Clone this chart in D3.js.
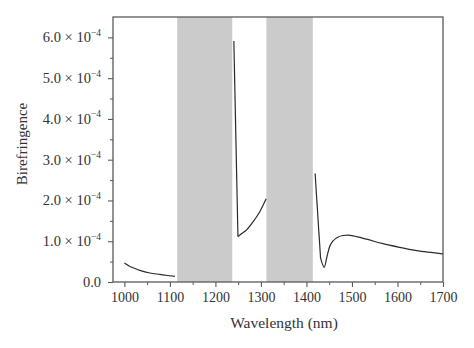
<!DOCTYPE html>
<html><head><meta charset="utf-8">
<script src="https://cdn.jsdelivr.net/npm/d3@7"></script>
<style>body{margin:0;background:#fff}</style>
</head><body><svg id="c" width="474" height="348"></svg>
<script>
// Data (wavelength in nm, birefringence in units of 1e-4)
const seg1Wl = [1000, 1012, 1034, 1056, 1078, 1095, 1111];
const seg1Bi = [0.465, 0.38, 0.285, 0.22, 0.186, 0.16, 0.137];
const seg2Wl = [1240.5, 1249.5, 1258, 1268.6, 1283, 1297.8, 1311.5];
const seg2Bi = [5.91, 1.115, 1.19, 1.28, 1.48, 1.73, 2.04];
const seg3Wl = [1419, 1431, 1439, 1445, 1451, 1458, 1466, 1480, 1492, 1503, 1532, 1568, 1605, 1642, 1678, 1700];
const seg3Bi = [2.66, 0.59, 0.36, 0.62, 0.87, 1.0, 1.08, 1.14, 1.15, 1.13, 1.05, 0.94, 0.85, 0.77, 0.72, 0.69];
const bandStart = [1116, 1312];
const bandEnd = [1237, 1414];
const xTicks = [1000, 1100, 1200, 1300, 1400, 1500, 1600, 1700];
const yTicks = [0, 1, 2, 3, 4, 5, 6];
const yTickLabels = ["0.0", "1.0", "2.0", "3.0", "4.0", "5.0", "6.0"];

const svg = d3.select("#c");
const m = {l: 113, r: 443, t: 17, b: 282};
const x = d3.scaleLinear().domain([975, 1700]).range([m.l, m.r]);
const y = d3.scaleLinear().domain([0, 6.5]).range([m.b, m.t]);
const font = "'Liberation Serif', 'Times New Roman', serif";
const axisCol = "#5a5a5a";

// bands
svg.selectAll("rect.band").data(bandStart).enter().append("rect")
  .attr("x", (d,i) => x(d)).attr("width", (d,i) => x(bandEnd[i]) - x(d))
  .attr("y", m.t).attr("height", m.b - m.t).attr("fill", "#cbcbcb");

// curves
const line = d3.line().x(d => x(d[0])).y(d => y(d[1])).curve(d3.curveMonotoneX);
const lineLin = d3.line().x(d => x(d[0])).y(d => y(d[1]));
const segs = [[seg1Wl, seg1Bi], [seg2Wl, seg2Bi], [seg3Wl, seg3Bi]];
segs.forEach(([w, b]) => {
  const pts = w.map((v, i) => [v, b[i]]);
  svg.append("path").attr("d", lineLin(pts.slice(0, 2)))
    .attr("fill", "none").attr("stroke", "#2b2b2b").attr("stroke-width", 1.2);
  svg.append("path").attr("d", line(pts.slice(1)))
    .attr("fill", "none").attr("stroke", "#2b2b2b").attr("stroke-width", 1.2);
});

// frame
svg.append("rect").attr("x", m.l).attr("y", m.t).attr("width", m.r - m.l).attr("height", m.b - m.t)
  .attr("fill", "none").attr("stroke", axisCol).attr("stroke-width", 1.3);

// x axis
const xAxis = d3.axisBottom(x).tickValues(xTicks).tickSize(5).tickPadding(5).tickFormat(d3.format("d"));
const gx = svg.append("g").attr("transform", `translate(0,${m.b})`).call(xAxis);
const xMinor = d3.axisBottom(x).tickValues(d3.range(1050, 1700, 100)).tickSize(3).tickFormat("");
svg.append("g").attr("transform", `translate(0,${m.b})`).call(xMinor).call(g => g.select(".domain").remove())
  .selectAll("line").attr("stroke", axisCol);
gx.select(".domain").remove();
gx.selectAll("line").attr("stroke", axisCol).attr("stroke-width", 1.1);
gx.selectAll("text").attr("font-family", font).attr("font-size", 14).attr("fill", "#333");

// y axis
const yAxis = d3.axisLeft(y).tickValues(yTicks).tickSize(5).tickFormat("");
const gy = svg.append("g").attr("transform", `translate(${m.l},0)`).call(yAxis);
gy.select(".domain").remove();
gy.selectAll("line").attr("stroke", axisCol).attr("stroke-width", 1.1);
const yMinor = d3.axisLeft(y).tickValues(d3.range(0.5, 6.5, 1)).tickSize(3).tickFormat("");
svg.append("g").attr("transform", `translate(${m.l},0)`).call(yMinor).call(g => g.select(".domain").remove())
  .selectAll("line").attr("stroke", axisCol);

yTicks.forEach((t, i) => {
  const tx = svg.append("text").attr("x", 101).attr("y", y(t) + 5)
    .attr("text-anchor", "end").attr("font-family", font).attr("font-size", 14.5).attr("fill", "#333");
  if (t === 0) {
    tx.text("0.0");
  } else {
    tx.append("tspan").text(yTickLabels[i] + " \u00d7 10");
    tx.append("tspan").attr("dy", -6.5).attr("font-size", 9.5).text("\u22124");
  }
});

// titles
svg.append("text").attr("x", 284).attr("y", 328).attr("text-anchor", "middle")
  .attr("font-family", font).attr("font-size", 15.5).attr("fill", "#333").text("Wavelength (nm)");
svg.append("text").attr("transform", `translate(27,144) rotate(-90)`).attr("text-anchor", "middle")
  .attr("font-family", font).attr("font-size", 15).attr("fill", "#333").text("Birefringence");
</script></body></html>
